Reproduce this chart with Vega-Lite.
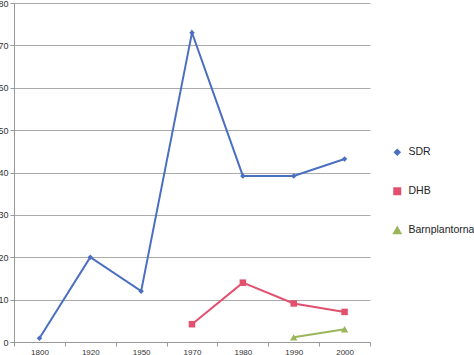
{
  "$schema": "https://vega.github.io/schema/vega-lite/v6.json",
  "autosize": {"type": "none"},
  "width": 356,
  "height": 339,
  "padding": {"left": 14, "top": 3, "right": 104, "bottom": 13},
  "background": "white",
  "config": {
    "view": {"stroke": null},
    "font": "Liberation Sans"
  },
  "data": {
    "values": [
      {"year": "1800", "series": "SDR", "value": 0.9},
      {"year": "1920", "series": "SDR", "value": 20},
      {"year": "1950", "series": "SDR", "value": 12},
      {"year": "1970", "series": "SDR", "value": 73},
      {"year": "1980", "series": "SDR", "value": 39.2},
      {"year": "1990", "series": "SDR", "value": 39.2},
      {"year": "2000", "series": "SDR", "value": 43.2},
      {"year": "1970", "series": "DHB", "value": 4.2},
      {"year": "1980", "series": "DHB", "value": 14},
      {"year": "1990", "series": "DHB", "value": 9.1},
      {"year": "2000", "series": "DHB", "value": 7.1},
      {"year": "1990", "series": "Barnplantorna", "value": 1.1},
      {"year": "2000", "series": "Barnplantorna", "value": 3}
    ]
  },
  "encoding": {
    "x": {
      "field": "year",
      "type": "ordinal",
      "bandPosition": 0.5,
      "scale": {"type": "band", "paddingInner": 0, "paddingOuter": 0, "domain": ["1800", "1920", "1950", "1970", "1980", "1990", "2000"]},
      "axis": {
        "title": null,
        "labelAngle": 0,
        "tickBand": "extent",
        "labelFontSize": 8,
        "labelColor": "#333",
        "domainColor": "#999",
        "tickColor": "#999",
        "tickSize": 4,
        "labelPadding": 2
      }
    },
    "y": {
      "field": "value",
      "type": "quantitative",
      "scale": {"domain": [0, 80], "nice": false},
      "axis": {
        "title": null,
        "values": [0, 10, 20, 30, 40, 50, 60, 70, 80],
        "labelFontSize": 9,
        "labelColor": "#333",
        "domainColor": "#999",
        "tickColor": "#999",
        "tickSize": 4,
        "gridColor": "#aaa",
        "grid": true,
        "labelPadding": 2
      }
    },
    "color": {
      "field": "series",
      "type": "nominal",
      "scale": {"domain": ["SDR", "DHB", "Barnplantorna"], "range": ["#4a6fc2", "#e3506e", "#9bb55a"]},
      "legend": {
        "title": null,
        "orient": "none",
        "legendX": 378,
        "legendY": 144,
        "labelFontSize": 10.5,
        "labelColor": "#222",
        "labelOffset": 6,
        "rowPadding": 26,
        "symbolSize": 50
      }
    }
  },
  "layer": [
    {"mark": {"type": "line", "strokeWidth": 2}},
    {
      "mark": {"type": "point", "filled": true, "opacity": 1},
      "encoding": {
        "shape": {
          "field": "series",
          "type": "nominal",
          "scale": {"domain": ["SDR", "DHB", "Barnplantorna"], "range": ["diamond", "square", "triangle-up"]},
          "legend": null
        },
        "size": {
          "field": "series",
          "type": "nominal",
          "scale": {"domain": ["SDR", "DHB", "Barnplantorna"], "range": [30, 55, 45]},
          "legend": null
        }
      }
    }
  ]
}
